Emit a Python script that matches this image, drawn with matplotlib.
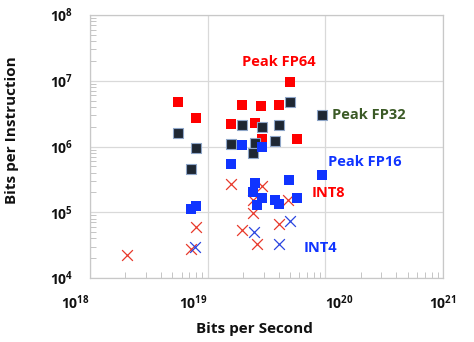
import matplotlib.pyplot as plt
import numpy as np

# Bits per second (x) and bits per instruction (y) for each precision
fp64_bps = [5.6e18, 7.9e18, 1.96e19, 2.85e19, 4.06e19, 4.96e19, 1.57e19, 2.52e19, 2.9e19, 5.74e19]
fp64_bpi = [4.8e6, 2.7e6, 4.3e6, 4.1e6, 4.3e6, 9.7e6, 2.2e6, 2.25e6, 1.29e6, 1.29e6]

fp32_bps = [5.6e18, 7.9e18, 7.2e18, 1.96e19, 2.87e19, 4.06e19, 4.96e19, 9.4e19, 1.57e19, 2.52e19, 3.77e19, 2.44e19]
fp32_bpi = [1.6e6, 9.4e5, 4.5e5, 2.15e6, 2.0e6, 2.15e6, 4.75e6, 3.0e6, 1.08e6, 1.12e6, 1.23e6, 8.0e5]

fp16_bps = [1.96e19, 2.87e19, 1.57e19, 9.4e19, 2.52e19, 4.9e19, 2.45e19, 2.9e19, 2.64e19, 3.75e19, 4.06e19, 5.7e19, 7.2e18, 7.9e18]
fp16_bpi = [1.05e6, 1.0e6, 5.4e5, 3.7e5, 2.8e5, 3.1e5, 2.0e5, 1.62e5, 1.29e5, 1.55e5, 1.34e5, 1.62e5, 1.13e5, 1.24e5]

int8_bps = [2.05e18, 7.9e18, 7.15e18, 1.57e19, 2.87e19, 2.44e19, 2.44e19, 4.8e19, 1.95e19, 4.06e19, 2.64e19]
int8_bpi = [2.24e4, 5.97e4, 2.8e4, 2.66e5, 2.55e5, 1.54e5, 9.9e4, 1.55e5, 5.4e4, 6.6e4, 3.25e4]

int4_bps = [7.85e18, 2.47e19, 5.0e19, 4.06e19]
int4_bpi = [3.0e4, 4.95e4, 7.4e4, 3.3e4]

red = '#ff0000'
blue = '#1034ff'
dark = '#1e2733'
green = '#3b5a26'

plt.rcParams['font.family'] = ['Open Sans', 'DejaVu Sans']
plt.rcParams['mathtext.fontset'] = 'custom'
plt.rcParams['mathtext.rm'] = 'Open Sans:bold'
plt.rcParams['mathtext.bf'] = 'Open Sans:bold'

fig = plt.figure(figsize=(4.74, 3.42), dpi=100)
ax = fig.add_axes([90/474, 64/342, 353/474, 263/342])

ax.scatter(int8_bps, int8_bpi, marker='x', s=60, color='#e8382a', linewidths=0.9, zorder=3)
ax.scatter(int4_bps, int4_bpi, marker='x', s=60, color='#2a45e0', linewidths=0.9, zorder=3)
ax.scatter(fp64_bps, fp64_bpi, marker='s', s=42, color=red, linewidths=0, zorder=4)
ax.scatter(fp32_bps, fp32_bpi, marker='s', s=42, color=dark, edgecolors='#8fa6c8', linewidths=0.8, zorder=4)
ax.scatter(fp16_bps, fp16_bpi, marker='s', s=42, color=blue, linewidths=0, zorder=4)

ax.set_xscale('log')
ax.set_yscale('log')
ax.set_xlim(1e18, 1e21)
ax.set_ylim(1e4, 1e8)

ax.set_xticks([1e18, 1e19, 1e20, 1e21])
ax.set_xticklabels([r'$\mathrm{10^{18}}$', r'$\mathrm{10^{19}}$', r'$\mathrm{10^{20}}$', r'$\mathrm{10^{21}}$'])
for lbl, ha in zip(ax.get_xticklabels(), ['right', 'right', 'left', 'center']):
    lbl.set_ha(ha)
ax.set_yticks([1e4, 1e5, 1e6, 1e7, 1e8])
ax.set_yticklabels([r'$\mathrm{10^{4}}$', r'$\mathrm{10^{5}}$', r'$\mathrm{10^{6}}$', r'$\mathrm{10^{7}}$', r'$\mathrm{10^{8}}$'])

ax.tick_params(which='major', length=0, pad=12, labelsize=10, labelcolor='#111111')
ax.tick_params(which='minor', direction='in', length=4, color='#bbbbbb', width=0.6)
ax.xaxis.set_minor_locator(plt.matplotlib.ticker.LogLocator(base=10, subs=np.arange(2, 10)))
ax.yaxis.set_minor_locator(plt.matplotlib.ticker.LogLocator(base=10, subs=np.arange(2, 10)))
ax.xaxis.set_minor_formatter(plt.NullFormatter())
ax.yaxis.set_minor_formatter(plt.NullFormatter())

ax.grid(True, which='major', color='#d9d9d9', linewidth=0.9)
ax.set_axisbelow(True)
for sp in ax.spines.values():
    sp.set_color('#c8c8c8')
    sp.set_linewidth(0.9)

ax.set_xlabel('Bits per Second', fontsize=11, fontweight='bold', color='#111111')
ax.set_ylabel('Bits per Instruction', fontsize=11, fontweight='bold', color='#111111')
ax.xaxis.set_label_coords(0.465, -0.167)
ax.yaxis.set_label_coords(-0.201, 0.563)

# series annotations
ax.text(8.2e19, 1.95e7, 'Peak FP64', color=red, fontsize=10.5, fontweight='bold', ha='right', va='center')
ax.text(1.15e20, 3.0e6, 'Peak FP32', color=green, fontsize=10.5, fontweight='bold', ha='left', va='center')
ax.text(1.054e20, 5.9e5, 'Peak FP16', color=blue, fontsize=10.5, fontweight='bold', ha='left', va='center')
ax.text(7.7e19, 1.96e5, 'INT8', color=red, fontsize=10.5, fontweight='bold', ha='left', va='center')
ax.text(6.6e19, 2.86e4, 'INT4', color=blue, fontsize=10.5, fontweight='bold', ha='left', va='center')

fig.savefig('out.png', dpi=100)
